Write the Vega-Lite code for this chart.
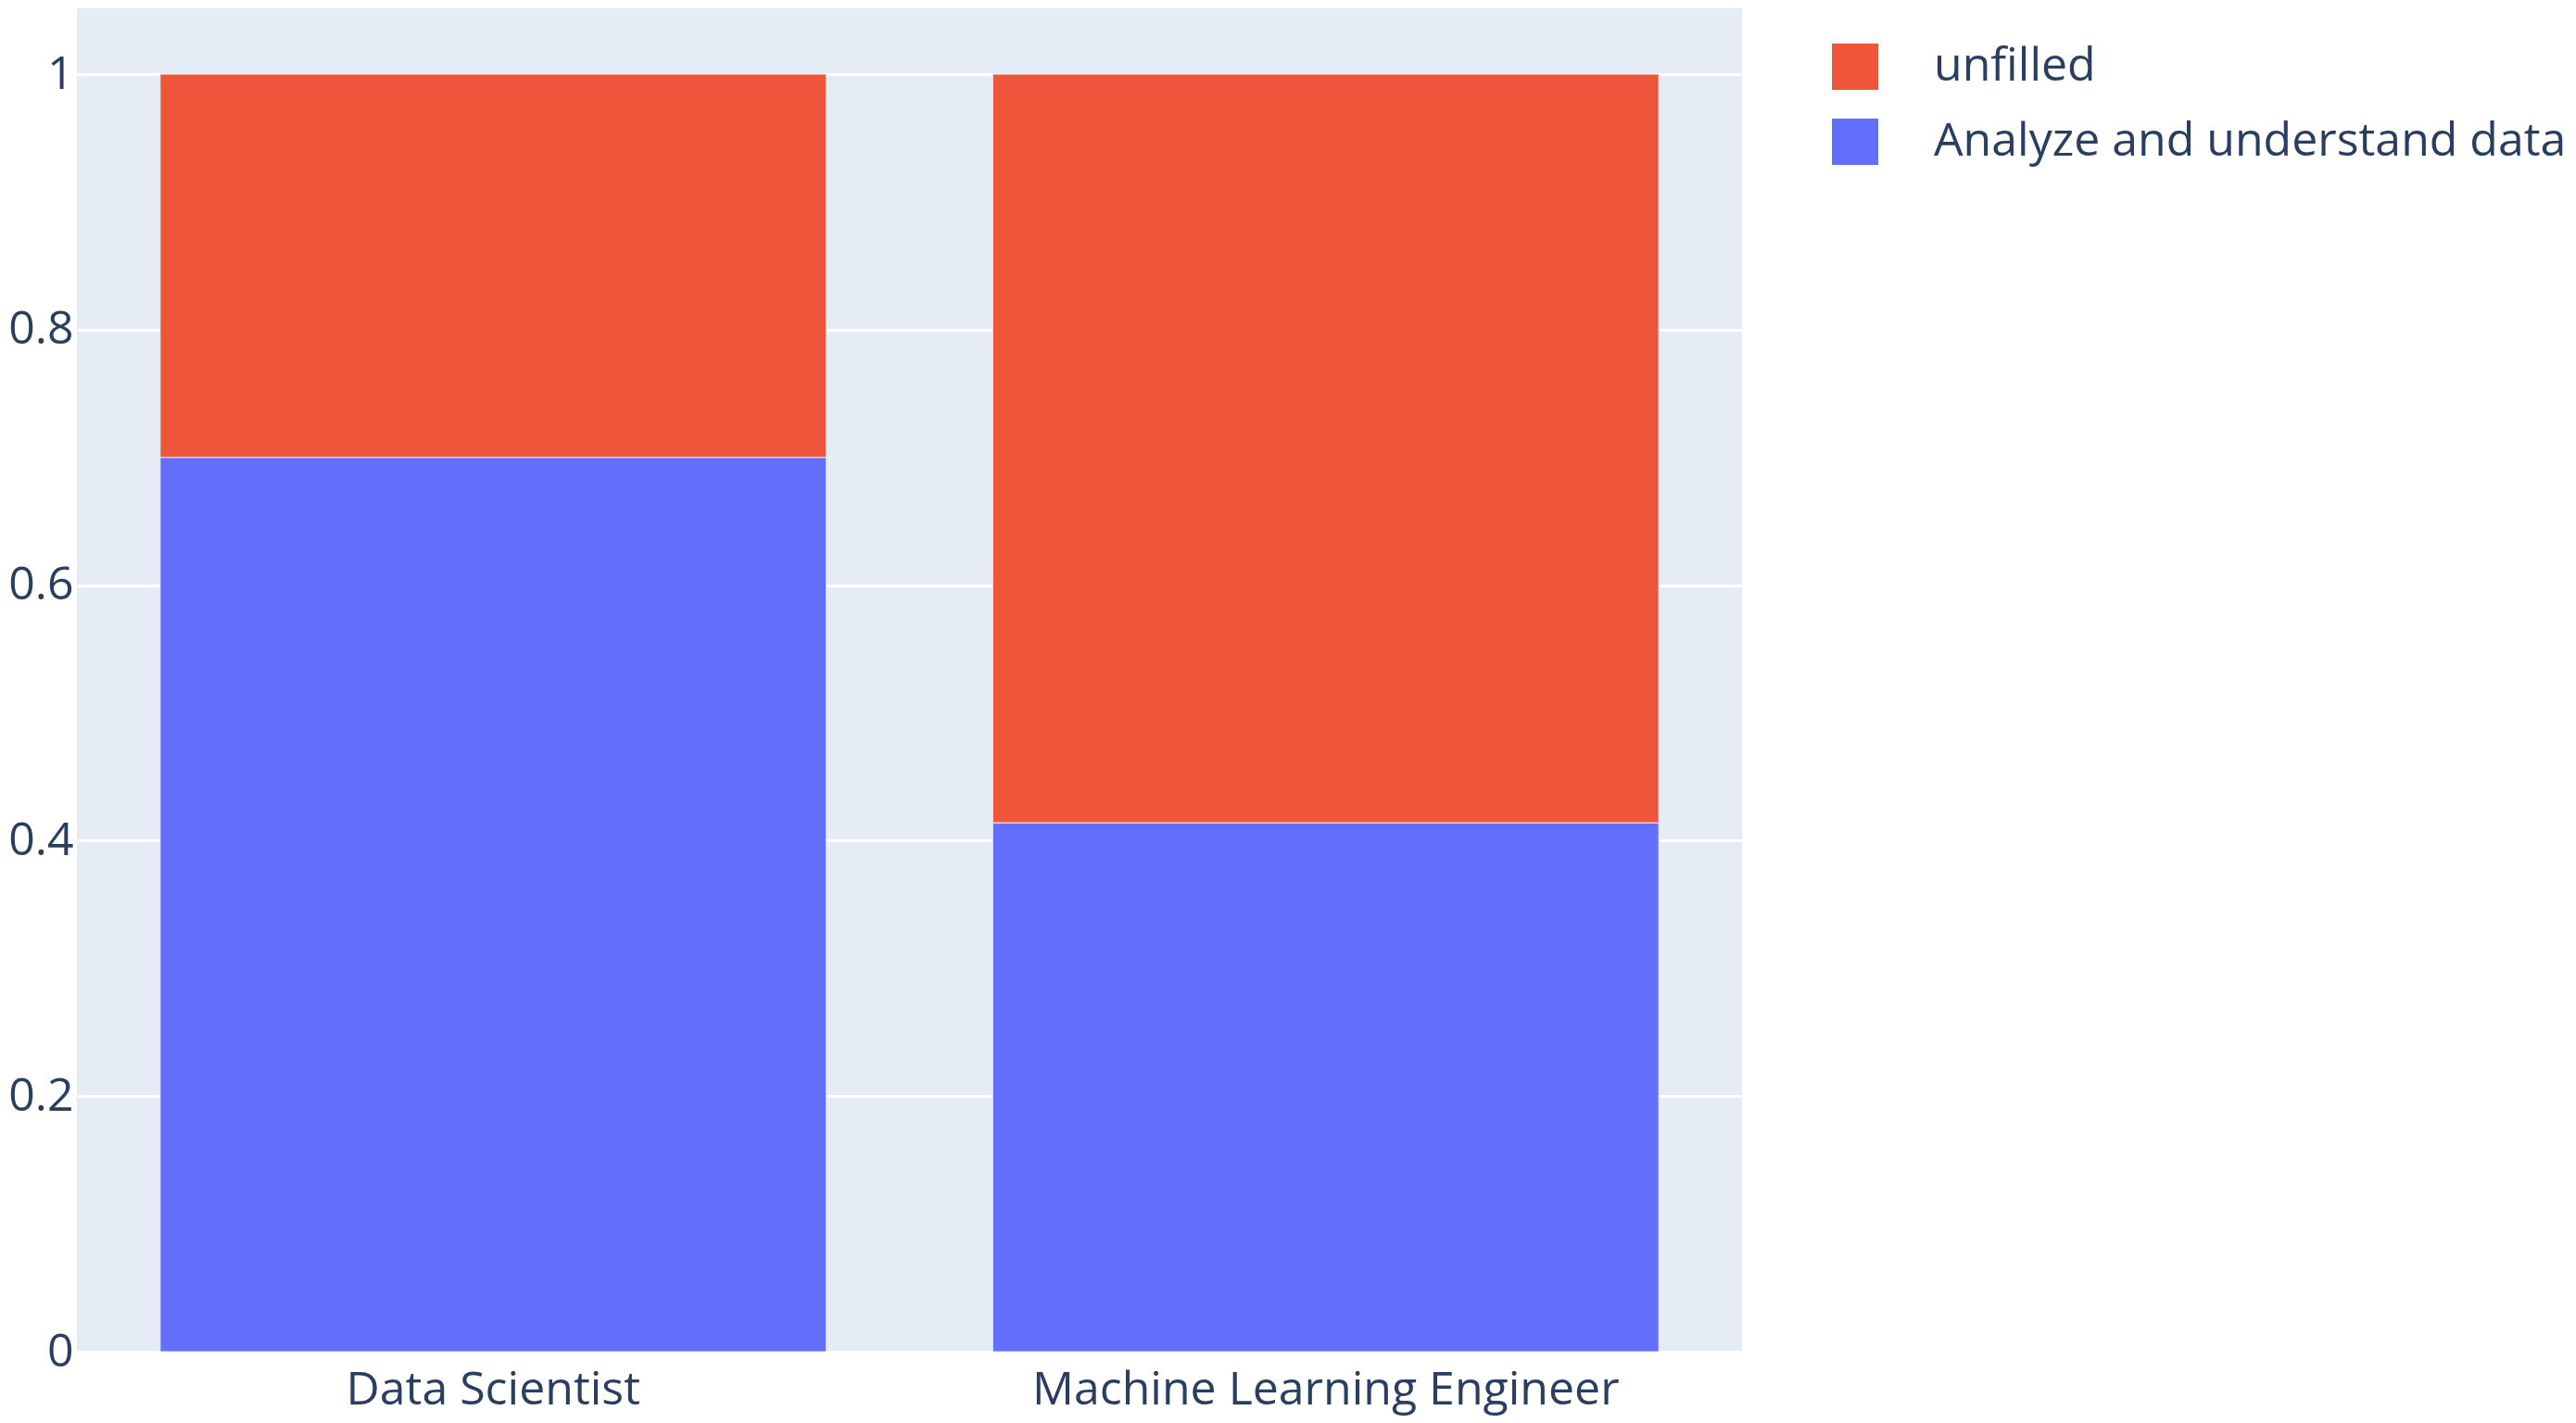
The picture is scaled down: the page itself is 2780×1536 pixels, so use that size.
{
  "$schema": "https://vega.github.io/schema/vega-lite/v6.json",
  "autosize": {"type": "none"},
  "padding": {"left": 83, "top": 9, "right": 900, "bottom": 77},
  "width": 1797,
  "height": 1450,
  "background": "white",
  "config": {
    "font": "Open Sans",
    "view": {"fill": "#E5ECF6", "stroke": null},
    "axis": {
      "labelFont": "Open Sans",
      "labelColor": "#2a3f5f",
      "labelFontSize": 50,
      "labelLimit": 1000,
      "domain": false,
      "ticks": false,
      "title": null
    }
  },
  "data": {
    "values": [
      {"role": "Data Scientist", "series": "Analyze and understand data", "share": 0.7, "rank": 1},
      {"role": "Data Scientist", "series": "unfilled", "share": 0.3, "rank": 2},
      {"role": "Machine Learning Engineer", "series": "Analyze and understand data", "share": 0.414, "rank": 1},
      {"role": "Machine Learning Engineer", "series": "unfilled", "share": 0.586, "rank": 2}
    ]
  },
  "mark": {"type": "bar", "stroke": "#E5ECF6", "strokeWidth": 1},
  "encoding": {
    "x": {
      "field": "role",
      "type": "nominal",
      "sort": null,
      "scale": {"paddingInner": 0.2, "paddingOuter": 0.1},
      "axis": {"labelAngle": 0, "grid": false, "labelPadding": 16}
    },
    "y": {
      "field": "share",
      "type": "quantitative",
      "stack": "zero",
      "scale": {"domain": [0, 1.0515], "nice": false},
      "axis": {
        "values": [0, 0.2, 0.4, 0.6, 0.8, 1],
        "format": "~g",
        "grid": true,
        "gridColor": "white",
        "gridWidth": 3,
        "labelPadding": 4
      }
    },
    "order": {"field": "rank", "type": "quantitative"},
    "color": {
      "field": "series",
      "type": "nominal",
      "scale": {
        "domain": ["unfilled", "Analyze and understand data"],
        "range": ["#EF553B", "#636EFA"]
      },
      "legend": {
        "title": null,
        "orient": "none",
        "legendX": 1894,
        "legendY": 38,
        "padding": 0,
        "symbolType": "square",
        "symbolSize": 2500,
        "symbolStrokeWidth": 0,
        "symbolOpacity": 1,
        "labelFont": "Open Sans",
        "labelFontSize": 50,
        "labelColor": "#2a3f5f",
        "labelOffset": 60,
        "rowPadding": 31,
        "labelLimit": 1000
      }
    }
  }
}
